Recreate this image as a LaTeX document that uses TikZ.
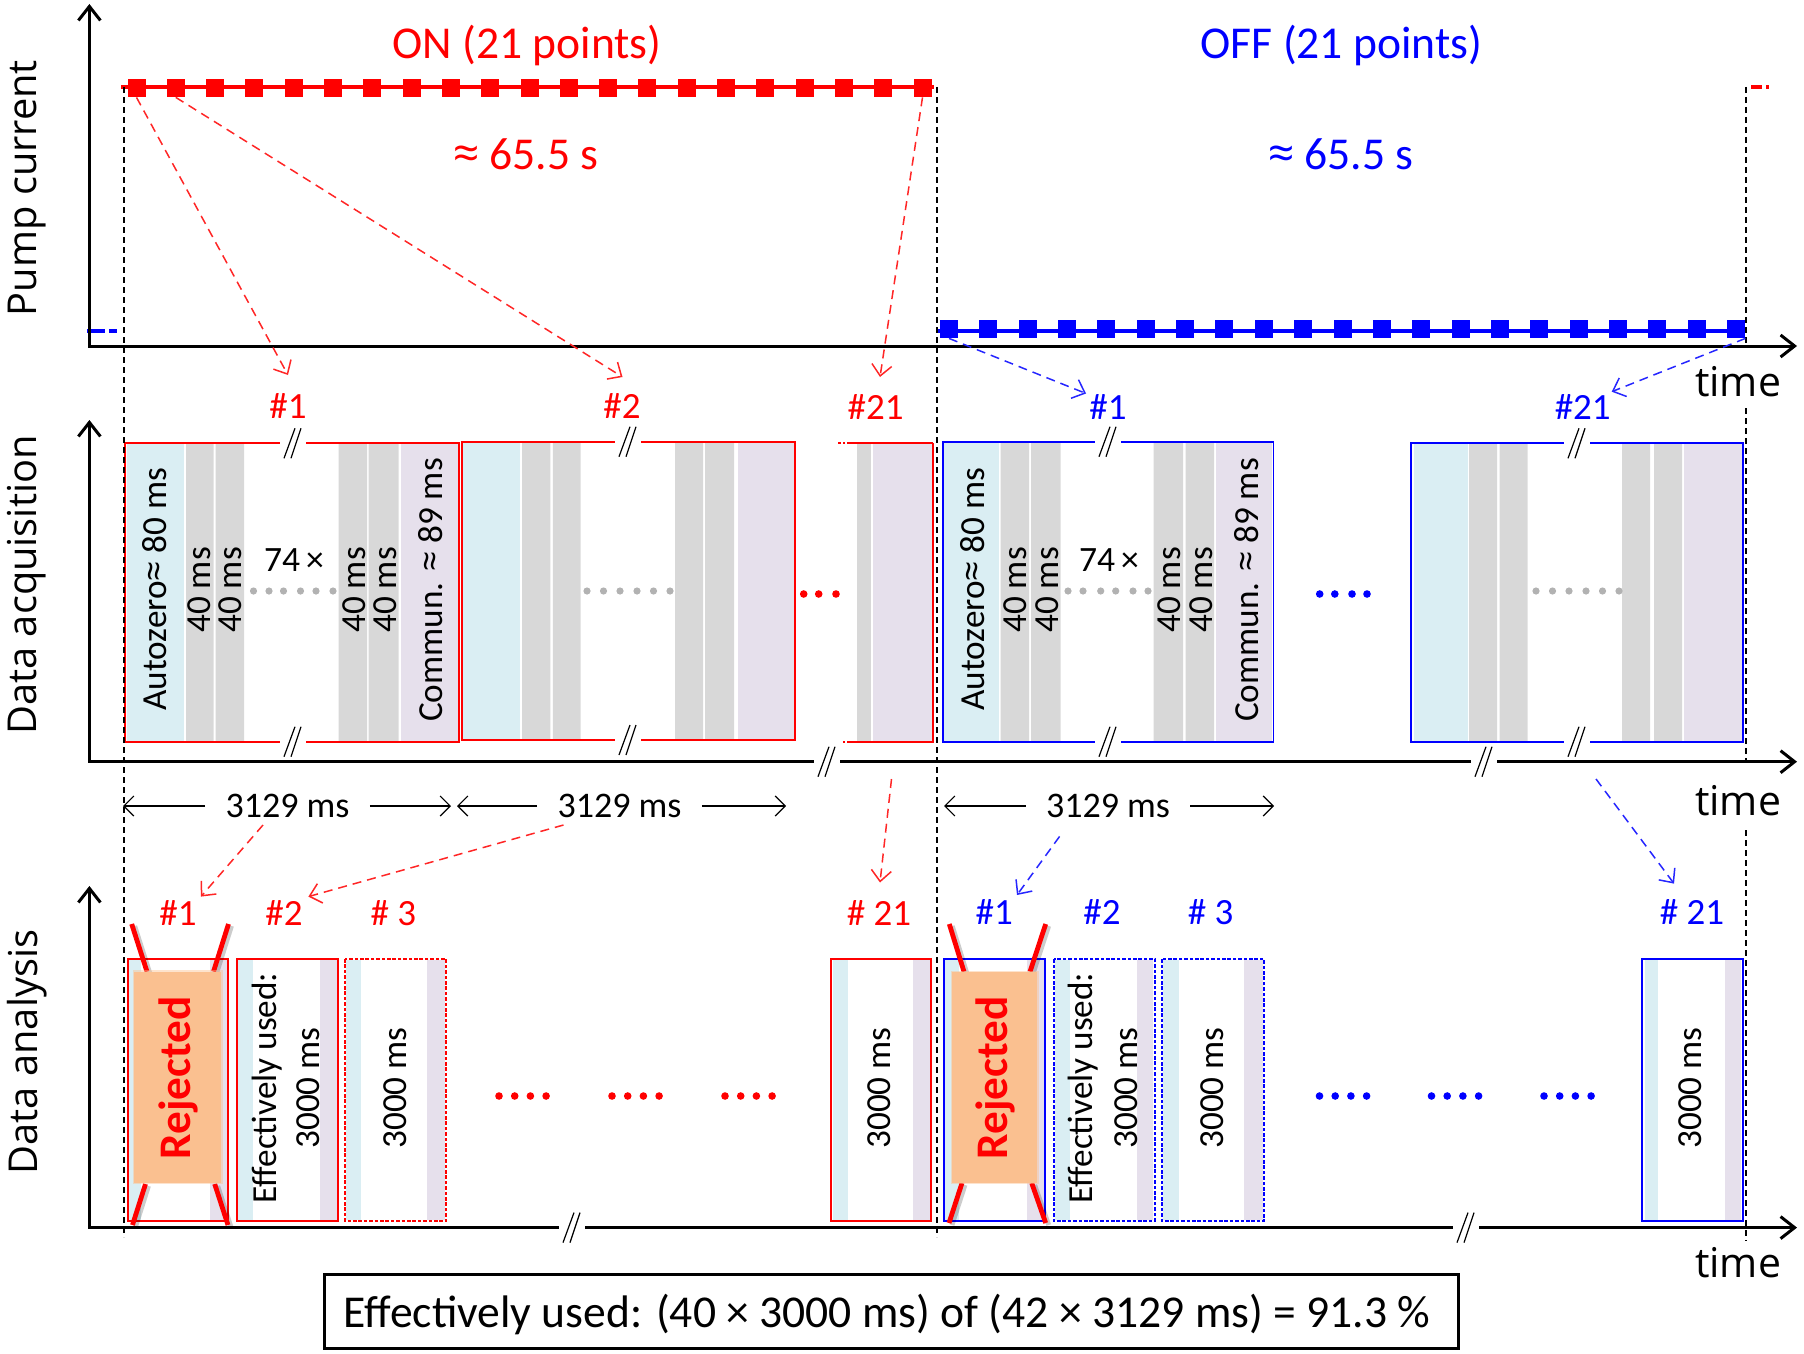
\documentclass[tikz,border=0pt]{standalone}
\usepackage{fontspec}
\setmainfont{Carlito}
\newfontfamily\axisfont{Open Sans}
\usetikzlibrary{arrows.meta}
\definecolor{azfill}{HTML}{DAEEF3}
\definecolor{gyfill}{HTML}{D8D8D8}
\definecolor{cmfill}{HTML}{E6E0EC}
\definecolor{rjfill}{HTML}{FAC090}
\tikzstyle{axis}=[line width=1.5pt, -{Straight Barb[length=7pt,width=11pt,line width=1.5pt]}]
\tikzstyle{axname}=[rotate=90, inner sep=0, font=\axisfont\fontsize{19.9}{22}\selectfont]
\tikzstyle{timename}=[inner sep=0, font=\axisfont\fontsize{20.5}{22}\selectfont]
\tikzstyle{guide}=[line width=0.7pt, dash pattern=on 3pt off 2pt]
\tikzstyle{redsq}=[fill=red, inner sep=0, minimum size=9pt]
\tikzstyle{bluesq}=[fill=blue, inner sep=0, minimum size=9pt]
\tikzstyle{title}=[inner sep=0, font=\fontsize{22.8}{24}\selectfont]
\tikzstyle{tag}=[inner sep=0, font=\fontsize{18.5}{20}\selectfont]
\tikzstyle{vtxt}=[rotate=90, inner sep=0, font=\fontsize{17.6}{19}\selectfont]
\tikzstyle{rejtxt}=[rotate=90, inner sep=0, text=red, font=\bfseries\fontsize{22.6}{24}\selectfont]
\tikzstyle{redjump}=[red!85!white, line width=0.75pt, dash pattern=on 4.5pt off 3pt, -{Straight Barb[length=5.5pt,width=10pt,line width=0.75pt]}]
\tikzstyle{bluejump}=[redjump, blue!85!white]
\tikzstyle{dur}=[inner ysep=0, inner xsep=10pt, font=\fontsize{18}{20}\selectfont]
\tikzstyle{durline}=[line width=0.6pt, -{Straight Barb[length=5pt,width=10pt,line width=0.6pt]}]
\tikzstyle{frame}=[line width=0.9pt]
\tikzstyle{dotted frame}=[line width=0.9pt, dash pattern=on 1.8pt off 0.9pt]
\tikzstyle{rjbox}=[fill=rjfill, draw=rjfill, draw opacity=0.45, line width=1.2pt]
\newcommand{\apx}{{\axisfont ≈}}
\newcommand{\brk}[2]{%
  \fill[white] (#1-13,#2-4) rectangle (#1+13,#2+4);
  \draw[line width=0.6pt] (#1-9,#2+15) -- (#1+2,#2-15) (#1-2,#2+15) -- (#1+8,#2-15);}
\newcommand{\xbar}[2]{%
  \draw[black, opacity=0.2, line width=2.4pt] ([xshift=1.5pt,yshift=-1pt]#1) -- ([xshift=1.5pt,yshift=-1pt]#2);
  \draw[red, line width=2.4pt] (#1) -- (#2);}
\begin{document}
\begin{tikzpicture}[x=0.5pt,y=-0.5pt]
  \useasboundingbox (0,0) rectangle (1804,1354);
  % pump current
  \draw[red, line width=2pt] (121,87) -- (934,87);
  \draw[blue, line width=2pt] (938,331) -- (1746,331);
  \foreach \i in {1,...,21} {
    \node[redsq] (r\i) at ({136.5+39.3*(\i-1)},88) {};
    \node[bluesq] (b\i) at ({949+39.35*(\i-1)},329) {};
  }
  \draw[blue, line width=2pt, dash pattern=on 9pt off 2pt on 4pt off 2pt] (87,331) -- (119,331);
  \draw[red, line width=2pt, dash pattern=on 5.5pt off 2pt on 1.5pt off 2pt] (1751,87) -- (1769,87);
  \node[title, text=red] (on) at (527,45) {ON (21 points)};
  \node[title, text=blue] (off) at (1341.5,45) {OFF (21 points)};
  \node[title, text=red] (onT) at (526,154) {\apx{} 65.5 s};
  \node[title, text=blue] (offT) at (1341,154) {\apx{} 65.5 s};
  % acquisition, red
  \fill[azfill] (126.5,444) rectangle (184,741);
  \fill[gyfill] (186,444) rectangle (213.5,741) (215.5,444) rectangle (244,741)
    (338.5,444) rectangle (367,741) (368.5,444) rectangle (398.6,741);
  \fill[cmfill] (401,444) rectangle (457.5,741);
  \fill[azfill] (463.4,442) rectangle (520,739);
  \fill[gyfill] (522,442) rectangle (550.4,739) (552.8,442) rectangle (580.5,739)
    (675,442) rectangle (703,739) (705,442) rectangle (734,739);
  \fill[cmfill] (737.5,442) rectangle (794,739);
  \fill[gyfill] (857,444) rectangle (871,741);
  \fill[cmfill] (873,444) rectangle (932,741);
  \draw[red, frame] (125.3,443.3) rectangle (458.7,741.7);
  \draw[red, frame] (462,441.7) rectangle (795,740);
  \draw[red, frame] (933,443.3) -- (855,443.3) (933,443.3) -- (933,741.7) -- (855,741.7);
  \draw[red, frame, dash pattern=on 4pt off 1pt on 1pt off 1pt] (855,443.3) -- (838,443.3) (855,741.7) -- (842,741.7);
  % acquisition, blue
  \fill[azfill] (944,442) rectangle (998.7,741);
  \fill[gyfill] (1000.6,442) rectangle (1029,741) (1031,442) rectangle (1060.7,741)
    (1153.7,442) rectangle (1183,741) (1185.7,442) rectangle (1214,741);
  \fill[cmfill] (1216,442) rectangle (1272,741);
  \fill[azfill] (1414,444) rectangle (1467.7,741);
  \fill[gyfill] (1469,444) rectangle (1497,741) (1499.7,444) rectangle (1527.7,741)
    (1622,444) rectangle (1650,741) (1654,444) rectangle (1682,741);
  \fill[cmfill] (1684,444) rectangle (1741.7,741);
  \draw[blue, frame] (943,441.7) rectangle (1273.5,741.7);
  \draw[blue, frame] (1411,443.3) rectangle (1742.7,741.7);
  % axes
  \draw[axis] (89.4,346) -- (89.4,4);
  \draw[axis] (88,346) -- (1797,346);
  \draw[axis] (89.4,761.7) -- (89.4,420);
  \draw[axis] (88,761.7) -- (1797,761.7);
  \draw[axis] (89.4,1227.6) -- (89.4,886);
  \draw[axis] (88,1227.6) -- (1797,1227.6);
  \node[axname] (pump) at (27,188) {Pump current};
  \node[axname] (acq) at (27,585) {Data acquisition};
  \node[axname] (ana) at (27,1052) {Data analysis};
  \node[timename] (t1) at (1738,382) {time};
  \node[timename] (t2) at (1738,801) {time};
  \node[timename] (t3) at (1738,1263) {time};
  % guides
  \draw[guide] (124,87) -- (124,1237);
  \draw[guide] (937,87) -- (937,1237);
  \draw[guide] (1746,87) -- (1746,346);
  \draw[guide] (1746,408) -- (1746,761.7);
  \draw[guide] (1746,830) -- (1746,1241);
  % breaks
  \brk{293}{443.3} \brk{293}{741.7} \brk{628}{441.7} \brk{628}{740}
  \brk{1108}{441.7} \brk{1108}{741.7} \brk{1577}{443.3} \brk{1577}{741.7}
  \brk{827}{761.7} \brk{1484}{761.7} \brk{572}{1227.6} \brk{1466}{1227.6}
  % acquisition texts
  \foreach \x/\c in {155/A,972.6/B} \node[vtxt] (zero\c) at (\x,589) {Autozero\apx{} 80 ms};
  \foreach \x/\c in {431/A,1246.6/B} \node[vtxt] (comm\c) at (\x,590) {Commun. \apx{} 89 ms};
  \foreach \x/\c in {199.7/A,230.5/B,354/C,385.5/D,1015/E,1047/F,1168.7/G,1201/H}
    \node[vtxt] (ms\c) at (\x,590) {40 ms};
  \node[inner sep=0, font=\fontsize{17.8}{20}\selectfont] (repA) at (294,560) {74\,×};
  \node[inner sep=0, font=\fontsize{17.8}{20}\selectfont] (repB) at (1109,560) {74\,×};
  \foreach \x in {253.5,269,283.5,300.5,316,333,1068,1083,1100.7,1115.7,1133,1148,
      587,603.5,620,637,653.5,670,1536,1552.5,1569,1586,1602.5,1619}
    \fill[gray!60] (\x,591) circle (1.8pt);
  \foreach \x in {803.7,818.7,836} \fill[red] (\x,594) circle (1.9pt);
  \foreach \x in {1319.7,1334.8,1352,1367} \fill[blue] (\x,594) circle (1.9pt);
  \node[tag, text=red] (acqR1) at (288,406) {\#1};
  \node[tag, text=red] (acqR2) at (622,406) {\#2};
  \node[tag, text=red] (acqR21) at (875.7,406.7) {\#21};
  \node[tag, text=blue] (acqB1) at (1108,407) {\#1};
  \node[tag, text=blue] (acqB21) at (1582.7,406.7) {\#21};
  % durations
  \foreach \x/\l/\r/\c in {287.5/123/451/A,619.5/457/786/B,1108/944/1274/C} {
    \node[dur] (dur\c) at (\x,806) {3129 ms};
    \coordinate (dur\c l) at (\l,806);
    \coordinate (dur\c r) at (\r,806);
    \draw[durline] (dur\c.west) -- (dur\c l);
    \draw[durline] (dur\c.east) -- (dur\c r);
  }
  % analysis cells
  \foreach \a/\b/\c/\d in {127.7/141/210/227,238.4/253/319.5/337,346/361/427.4/445,833/848/913/930,
      945/959/1027/1044,1055/1070/1136.7/1153,1163/1179/1244/1263,1645/1658/1724.6/1741} {
    \fill[azfill] (\a,960) rectangle (\b,1220);
    \fill[cmfill] (\c,960) rectangle (\d,1220);
  }
  \draw[red, frame] (127.7,959) rectangle (228,1221);
  \draw[red, frame] (237.2,959) rectangle (337.7,1221);
  \draw[red, dotted frame] (345,959) rectangle (446,1221);
  \draw[red, frame] (830.6,959) rectangle (931,1221);
  \draw[blue, frame] (944.3,959.3) rectangle (1045,1220.7);
  \draw[blue, dotted frame] (1053.7,959.3) rectangle (1155,1220.7);
  \draw[blue, dotted frame] (1161.7,959.3) rectangle (1264.3,1220.7);
  \draw[blue, frame] (1641.7,959.3) rectangle (1743,1220.7);
  \xbar{131.7,924}{147,971.6} \xbar{228.5,924}{213.5,971.6}
  \xbar{145.5,1184}{132.5,1225} \xbar{214.7,1184}{228,1225}
  \xbar{949.3,924}{964,971.7} \xbar{1045.7,924}{1030,971.7}
  \xbar{962,1183}{949,1223} \xbar{1031.7,1183}{1045.7,1223}
  \path[rjbox] (134.4,971.6) rectangle (221.4,1182.7);
  \path[rjbox] (951.7,971.7) rectangle (1037.3,1182.7);
  \node[rejtxt] (rejA) at (178,1078) {Rejected};
  \node[rejtxt] (rejB) at (995,1078) {Rejected};
  \node[vtxt] (useA) at (267,1088) {Effectively used:};
  \node[vtxt] (useB) at (1083,1088) {Effectively used:};
  \foreach \x/\c in {308.4/A,395.4/B,879/C,1125.7/D,1212.3/E,1690/F}
    \node[vtxt] (full\c) at (\x,1088) {3000 ms};
  \foreach \x in {499,612,725} \foreach \k in {0,1,2,3} \fill[red] (\x+15.7*\k,1096) circle (1.9pt);
  \foreach \x in {1319.5,1431.5,1544} \foreach \k in {0,1,2,3} \fill[blue] (\x+15.7*\k,1096) circle (1.9pt);
  \node[tag, text=red] (anaR1) at (178,913) {\#1};
  \node[tag, text=red] (anaR2) at (284,913) {\#2};
  \node[tag, text=red] (anaR3) at (393.4,913) {\# 3};
  \node[tag, text=red] (anaR21) at (879,913) {\# 21};
  \node[tag, text=blue] (anaB1) at (994.3,912) {\#1};
  \node[tag, text=blue] (anaB2) at (1102,912) {\#2};
  \node[tag, text=blue] (anaB3) at (1210.7,912) {\# 3};
  \node[tag, text=blue] (anaB21) at (1692,912) {\# 21};
  % jumps
  \coordinate (tipR1) at (288,375);
  \coordinate (tipR2) at (622.5,377);
  \coordinate (tipR21) at (880,377);
  \coordinate (tipB1) at (1086,393.5);
  \coordinate (tipB21) at (1611.7,391.7);
  \path[redjump] (r1.south) edge (tipR1);
  \path[redjump] (r2.south) edge (tipR2);
  \path[redjump] (r21.south) edge (tipR21);
  \path[bluejump] (b1.south) edge (tipB1);
  \path[bluejump] (b21.south east) edge (tipB21);
  \coordinate (fromA) at (263,825);
  \coordinate (fromB) at (563.5,825);
  \coordinate (fromC) at (891.5,779);
  \coordinate (fromD) at (1059.6,836.4);
  \coordinate (fromE) at (1596,779);
  \coordinate (toA) at (200.9,896.6);
  \coordinate (toB) at (308.4,896.6);
  \coordinate (toC) at (880,882.5);
  \coordinate (toD) at (1017,895);
  \coordinate (toE) at (1674,883.6);
  \path[redjump] (fromA) edge (toA);
  \path[redjump] (fromB) edge (toB);
  \path[redjump] (fromC) edge (toC);
  \path[bluejump] (fromD) edge (toD);
  \path[bluejump] (fromE) edge (toE);
  % summary
  \node[draw, line width=1.5pt, minimum width=567pt, minimum height=37pt, inner sep=0] (sum) at (891.5,1311) {};
  \node[inner sep=0, font=\fontsize{22.8}{24}\selectfont] (sumtext) at (887,1314)
    {Effectively used: (40 × 3000 ms) of (42 × 3129 ms) = 91.3 \%};
\end{tikzpicture}
\end{document}
